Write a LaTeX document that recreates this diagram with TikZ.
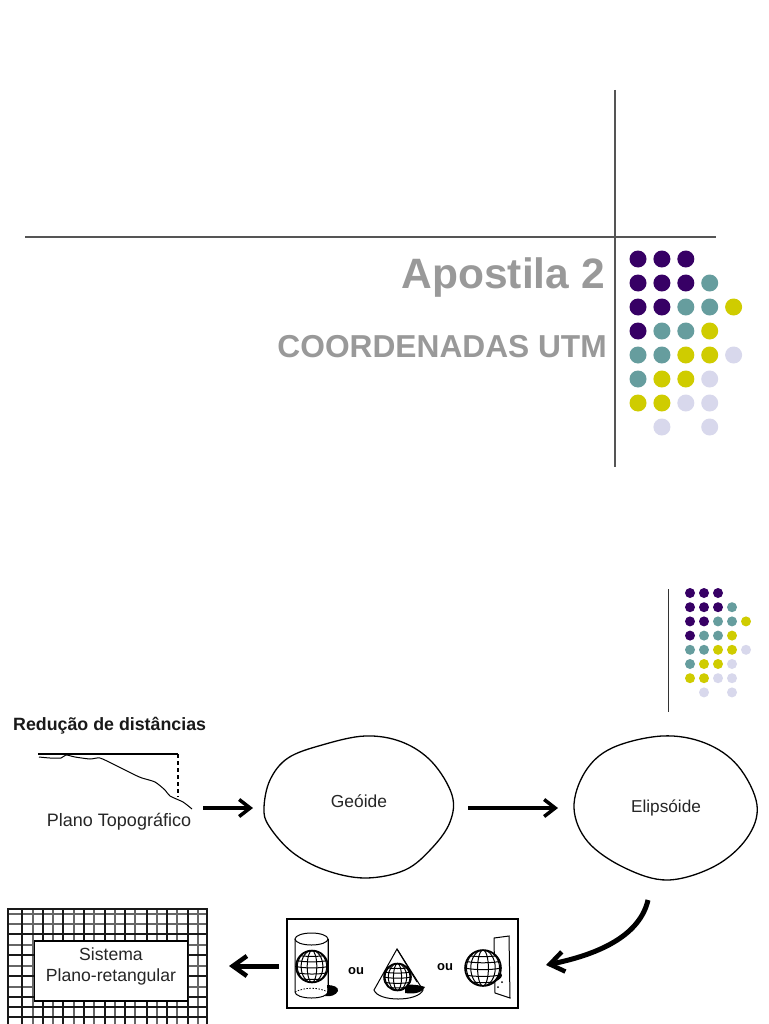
\documentclass[tikz,border=0pt]{standalone}
\usepackage{fontspec}
\setmainfont{Liberation Sans}
\usetikzlibrary{arrows.meta,bending}
\definecolor{dkpurple}{HTML}{370065}
\definecolor{teal1}{HTML}{669D9E}
\definecolor{yel1}{HTML}{CFCC00}
\definecolor{lav1}{HTML}{D8D8EC}
\definecolor{titlegray}{HTML}{999999}
\definecolor{rulegray}{HTML}{555555}
\newcommand{\globeat}[3]{%
  \begin{scope}[shift={(#1,#2)}]
    \fill[white] (0,0) circle (#3);
    \clip (0,0) circle (#3);
    \foreach \f in {-0.72,-0.38,0,0.38,0.72}{
      \draw[line width=1pt,black] (-#3,\f*#3) .. controls (-#3*.5,\f*#3+#3*.12) and (#3*.5,\f*#3+#3*.12) .. (#3,\f*#3);}
    \foreach \f in {0.3,0.68,0.92}{
      \draw[line width=1pt,black] (0,0) ellipse ({\f*#3} and #3);}
  \end{scope}
  \draw[line width=1.6pt,black] (#1,#2) circle (#3);
}
\tikzset{
  x=1pt,y=-1pt,
  rulelines/.style={rulegray,line width=1.1pt},
  blob/.style={black,line width=1.3pt},
  flow/.style={line width=3.5pt,black,-{Straight Barb[length=11pt,width=17pt,line width=3.5pt]}},
  flowb/.style={line width=5pt,black,-{Straight Barb[length=14pt,width=20pt,line width=4.5pt]}},
  title/.style={inner sep=0pt,text=titlegray,anchor=base east},
  lbl/.style={inner sep=0pt,align=center,text=black!85},
  ou/.style={inner sep=0pt,font=\bfseries\fontsize{13}{14}\selectfont},
  gridd/.style={line width=1.8pt,black!90},
  gridl/.style={line width=1.3pt,black!60},
}
\begin{document}
\begin{tikzpicture}
\useasboundingbox (0,0) rectangle (768,1024);
\fill[white] (0,0) rectangle (768,1024);

% upper slide
\coordinate (hA) at (25,237); \coordinate (hB) at (716,237);
\coordinate (vA) at (615,90); \coordinate (vB) at (615,467);
\draw[rulelines] (hA) -- (hB);
\draw[rulelines] (vA) -- (vB);
\node[title,font=\bfseries\fontsize{42.5}{45}\selectfont] (t1) at (605,288) {Apostila 2};
\node[title,font=\bfseries\fontsize{31.7}{33}\selectfont] (t2) at (607,357) {COORDENADAS UTM};

\foreach \cx/\cy/\c in {
 0/0/dkpurple,1/0/dkpurple,2/0/dkpurple,
 0/1/dkpurple,1/1/dkpurple,2/1/dkpurple,3/1/teal1,
 0/2/dkpurple,1/2/dkpurple,2/2/teal1,3/2/teal1,4/2/yel1,
 0/3/dkpurple,1/3/teal1,2/3/teal1,3/3/yel1,
 0/4/teal1,1/4/teal1,2/4/yel1,3/4/yel1,4/4/lav1,
 0/5/teal1,1/5/yel1,2/5/yel1,3/5/lav1,
 0/6/yel1,1/6/yel1,2/6/lav1,3/6/lav1,
 1/7/lav1,3/7/lav1}{
  \fill[\c] ({638+23.9*\cx},{259+24*\cy}) circle (8.5);
  \fill[\c] ({690+14*\cx},{593+14.2*\cy}) circle (5);
}
\coordinate (sA) at (668,589); \coordinate (sB) at (668,712);
\draw[black!80,line width=1pt] (sA) -- (sB);

% lower slide
\node[inner sep=0pt,anchor=base west,font=\bfseries\fontsize{17.8}{19}\selectfont,text=black!90] (head) at (13,730) {Redução de distâncias};
\coordinate (pA) at (38,754); \coordinate (pB) at (178,754); \coordinate (pC) at (178,797);
\draw[line width=1.1pt,black] (pA) -- (pB);
\draw[line width=1.1pt,black,dash pattern=on 4pt off 3pt] (pB) -- (pC);
\draw[line width=1pt,black,line join=round] plot[smooth,tension=.4] coordinates {(39,757)(50,758)(61,758)(66,755)(75,757)(90,759)(100,758)(115,765)(135,775)(142,778)(155,782)(165,790)(170,796)(183,802)(192,809)};
\node[lbl,font=\fontsize{18}{20}\selectfont] (plano) at (119,822) {Plano Topográfico};

\draw[blob] plot[smooth cycle,tension=.6] coordinates {(264,808)(270,780)(288,758)(322,745)(365,736)(402,742)(432,762)(452,795)(450,822)(432,848)(405,870)(365,878)(325,870)(292,852)(269,826)};
\node[lbl,font=\fontsize{17.4}{18}\selectfont] (geoide) at (359,801) {Geóide};
\draw[blob] plot[smooth cycle,tension=.6] coordinates {(574,808)(585,772)(612,748)(662,736)(705,743)(738,766)(757,805)(747,838)(715,866)(668,880)(625,868)(588,842)};
\node[lbl,font=\fontsize{17.2}{18}\selectfont] (elip) at (666,808) {Elipsóide};

\coordinate (a1s) at (203,808); \coordinate (a1e) at (253,808);
\draw[flow] (a1s) -- (a1e);
\coordinate (a2s) at (468,808); \coordinate (a2e) at (558,808);
\draw[flow] (a2s) -- (a2e);

% grid box
\begin{scope}
  \clip (7,907) rectangle (209,1024);
  \foreach \x in {33,53,74,94,115,135,157,177,198}{\draw[gridl] (\x,908) -- (\x,1024);}
  \foreach \y in {914,924,945,966,987}{\draw[gridl] (8,\y) -- (208,\y);}
  \foreach \x in {8,22,43,63,84,105,125,147,167,188,207}{\draw[gridd] (\x,908) -- (\x,1024);}
  \foreach \y in {909,934,955,976,997,1007,1017}{\draw[gridd] (8,\y) -- (208,\y);}
\end{scope}
\node[draw=black,fill=white,line width=1.9pt,minimum width=153pt,minimum height=60pt,inner sep=0pt] (sist) at (111,971) {};
\node[lbl,font=\fontsize{17.6}{21}\selectfont] (sisttxt) at (111,966) {Sistema\\Plano-retangular};

% projections box
\node[draw=black,line width=1.8pt,fill=white,minimum width=231pt,minimum height=89pt,inner sep=0pt] (proj) at (402.5,963.5) {};

% cylinder
\draw[line width=1pt,fill=white] (295,939) -- (295,992) arc[start angle=180,end angle=360,x radius=16.5,y radius=-6] -- (328,939);
\draw[line width=1pt] (311.5,939) ellipse (16.5 and 6);
\draw[line width=.8pt,dash pattern=on 1.5pt off 1.5pt] (295,992) .. controls (305,987) and (318,987) .. (328,992);
\fill[black] (325,996) .. controls (329,992) and (327,989) .. (327,985) .. controls (333,985) and (339,987) .. (338,991) .. controls (336,995) and (331,997) .. (325,996) -- cycle;
\globeat{312}{966.5}{16}
\draw[line width=1pt] (328,939) -- (328,992);

% cone
\draw[line width=1pt,fill=white] (397,949) -- (374,990) .. controls (378,1002) and (418,1002) .. (423,990) -- cycle;
\fill[black] (405,993) .. controls (412,994) and (421,994) .. (425,987) .. controls (420,985) and (410,984) .. (405,985) -- cycle;
\globeat{397.5}{977}{13.5}
\draw[line width=1pt] (397,949) -- (417,982);

% plane
\draw[line width=1pt,fill=white] (494,938) -- (509,936) -- (510,998) -- (495,993) -- cycle;
\globeat{483}{968}{18}
\fill[black] (494,982) .. controls (500,980) and (504,976) .. (501,973) .. controls (498,975) and (497,979) .. (491,983) -- cycle;
\fill[black] (502,982) circle (1) (498,987) circle (1);
\fill[black] (499,960) circle (1);

\node[ou] (ou1) at (356,971) {ou};
\node[ou] (ou2) at (445,967) {ou};

% flows between lower boxes
\coordinate (a3s) at (648,900); \coordinate (a3e) at (546,965);
\draw[flowb] (a3s) .. controls (640,935) and (600,955) .. (a3e);
\coordinate (a4s) at (279,966); \coordinate (a4e) at (229,966);
\draw[flowb] (a4s) -- (a4e);
\end{tikzpicture}
\end{document}
